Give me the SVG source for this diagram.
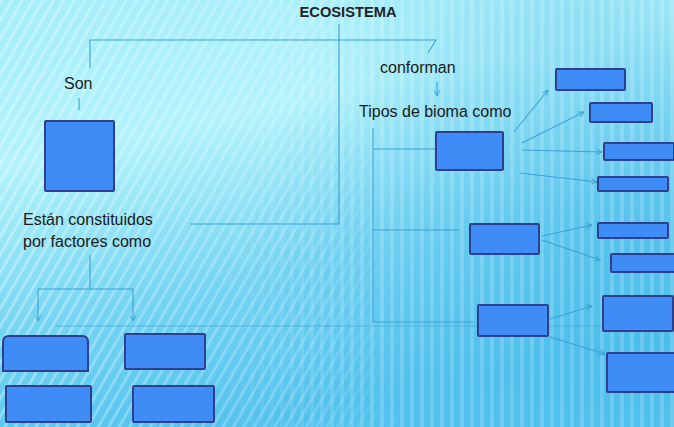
<svg xmlns="http://www.w3.org/2000/svg" width="674" height="427" viewBox="0 0 674 427">
<defs>
<linearGradient id="bg" x1="0" y1="0" x2="0.35" y2="1">
<stop offset="0" stop-color="#a4eefb"/>
<stop offset="0.35" stop-color="#b2f3fb"/>
<stop offset="0.7" stop-color="#74d4f3"/>
<stop offset="1" stop-color="#52c2ee"/>
</linearGradient>
<radialGradient id="shade" cx="0.95" cy="0.55" r="0.6">
<stop offset="0" stop-color="#3fb4e6" stop-opacity="0.5"/>
<stop offset="1" stop-color="#3fb4e6" stop-opacity="0"/>
</radialGradient>
<radialGradient id="shade2" cx="0.85" cy="0.05" r="0.4">
<stop offset="0" stop-color="#5fc4ea" stop-opacity="0.35"/>
<stop offset="1" stop-color="#5fc4ea" stop-opacity="0"/>
</radialGradient>
<pattern id="diag" width="9" height="9" patternUnits="userSpaceOnUse" patternTransform="rotate(30)">
<rect width="3" height="9" fill="#ffffff" opacity="0.32"/>
</pattern>
<pattern id="vert" width="10" height="10" patternUnits="userSpaceOnUse">
<rect width="4" height="10" fill="#ffffff" opacity="0.18"/>
</pattern>
<linearGradient id="fadeL" x1="0" y1="0" x2="1" y2="0">
<stop offset="0" stop-color="#fff" stop-opacity="1"/>
<stop offset="0.45" stop-color="#fff" stop-opacity="0.6"/>
<stop offset="0.6" stop-color="#fff" stop-opacity="0"/>
</linearGradient>
<linearGradient id="fadeR" x1="0" y1="0" x2="1" y2="0">
<stop offset="0.3" stop-color="#fff" stop-opacity="0"/>
<stop offset="0.55" stop-color="#fff" stop-opacity="1"/>
</linearGradient>
<mask id="mL"><rect width="674" height="427" fill="url(#fadeL)"/></mask>
<mask id="mR"><rect width="674" height="427" fill="url(#fadeR)"/></mask>
<marker id="arr" viewBox="0 0 10 10" refX="9" refY="5" markerWidth="7" markerHeight="7" orient="auto" markerUnits="userSpaceOnUse">
<path d="M1,1 L9,5 L1,9" fill="none" stroke="#3aa2d6" stroke-width="1.4"/>
</marker>
<style>
.box{fill:#3f8cf6;stroke:#2e3f8e;stroke-width:2}
.con{fill:none;stroke:#3aa2d6;stroke-width:1.1}
.faint{fill:none;stroke:#45a9d8;stroke-width:1;opacity:0.7}
.lbl{font-family:"Liberation Sans",Arial,sans-serif;font-size:16px;fill:#1a1a1a}
.title{font-family:"Liberation Sans",Arial,sans-serif;font-size:14px;font-weight:bold;fill:#222}
</style>
</defs>
<rect width="674" height="427" fill="url(#bg)"/>
<rect width="674" height="427" fill="url(#shade)"/>
<rect width="674" height="427" fill="url(#shade2)"/>
<rect width="674" height="427" fill="url(#diag)" mask="url(#mL)"/>
<rect width="674" height="427" fill="url(#vert)" mask="url(#mR)"/>

<g id="connectors">
<polyline class="con" points="339,24 339,224 190,224"/>
<polyline class="con" points="90,68 90,40 436,40 428,53"/>
<line class="con" x1="79" y1="98" x2="79" y2="110"/>
<polyline class="con" points="90,255 90,289"/>
<polyline class="con" points="38,289 133,289"/>
<line class="con" x1="38" y1="289" x2="38" y2="321" marker-end="url(#arr)"/>
<line class="con" x1="133" y1="289" x2="133" y2="321" marker-end="url(#arr)"/>
<line class="faint" x1="55" y1="326" x2="478" y2="326"/>
<line class="faint" x1="549" y1="326" x2="603" y2="326"/>
<line class="con" x1="437" y1="82" x2="437" y2="96" marker-end="url(#arr)"/>
<polyline class="con" points="373,128 373,322 473,322"/>
<line class="con" x1="373" y1="149" x2="435" y2="149"/>
<line class="con" x1="373" y1="230" x2="459" y2="230"/>
<line class="con" x1="514" y1="132" x2="548" y2="90" marker-end="url(#arr)"/>
<line class="con" x1="522" y1="143" x2="584" y2="112" marker-end="url(#arr)"/>
<line class="con" x1="522" y1="150" x2="602" y2="152" marker-end="url(#arr)"/>
<line class="con" x1="520" y1="173" x2="597" y2="182" marker-end="url(#arr)"/>
<line class="con" x1="542" y1="236" x2="592" y2="225" marker-end="url(#arr)"/>
<line class="con" x1="542" y1="240" x2="600" y2="260" marker-end="url(#arr)"/>
<line class="con" x1="550" y1="319" x2="592" y2="306" marker-end="url(#arr)"/>
<line class="con" x1="550" y1="337" x2="605" y2="354" marker-end="url(#arr)"/>
</g>

<g id="title"><text class="title" x="348" y="17" text-anchor="middle" textLength="97" lengthAdjust="spacingAndGlyphs">ECOSISTEMA</text></g>
<g id="son"><text class="lbl" x="64" y="89">Son</text></g>
<g id="constituidos"><text class="lbl" x="23" y="225">Están constituidos</text><text class="lbl" x="23" y="247">por factores como</text></g>
<g id="conforman"><text class="lbl" x="380" y="73">conforman</text></g>
<g id="tipos"><text class="lbl" x="359" y="117">Tipos de bioma como</text></g>

<g id="box-son"><rect class="box" x="45" y="121" width="69" height="70" rx="1"/></g>
<g id="box-a"><path class="box" d="M3,371 L3,342 Q3,336 9,336 L82,336 Q88,336 88,342 L88,371 Z"/></g>
<g id="box-b"><rect class="box" x="125" y="334" width="80" height="35" rx="1"/></g>
<g id="box-c"><rect class="box" x="6" y="386" width="85" height="36" rx="1"/></g>
<g id="box-d"><rect class="box" x="133" y="386" width="81" height="36" rx="1"/></g>

<g id="box-e"><rect class="box" x="436" y="132" width="67" height="38" rx="1"/></g>
<g id="box-f"><rect class="box" x="470" y="224" width="69" height="30" rx="1"/></g>
<g id="box-g"><rect class="box" x="478" y="305" width="70" height="31" rx="1"/></g>

<g id="box-r1"><rect class="box" x="556" y="69" width="69" height="21" rx="1"/></g>
<g id="box-r2"><rect class="box" x="590" y="103" width="62" height="19" rx="1"/></g>
<g id="box-r3"><rect class="box" x="604" y="143" width="70" height="17" rx="1"/></g>
<g id="box-r4"><rect class="box" x="598" y="177" width="70" height="14" rx="1"/></g>
<g id="box-r5"><rect class="box" x="598" y="223" width="70" height="15" rx="1"/></g>
<g id="box-r6"><rect class="box" x="611" y="254" width="64" height="18" rx="1"/></g>
<g id="box-r7"><rect class="box" x="603" y="296" width="70" height="35" rx="1"/></g>
<g id="box-r8"><rect class="box" x="607" y="353" width="68" height="39" rx="1"/></g>
</svg>
